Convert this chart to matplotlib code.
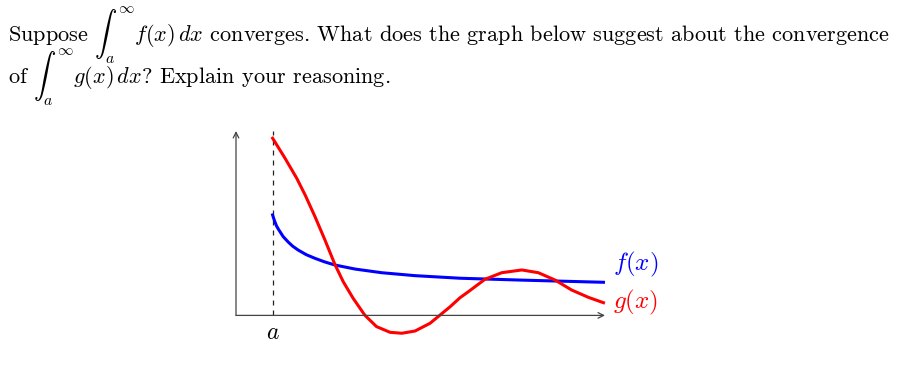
import matplotlib
matplotlib.use('Agg')
from matplotlib import pyplot as plt

plt.rcParams['font.family'] = 'serif'
plt.rcParams['font.serif'] = ['cmr10', 'DejaVu Serif']
plt.rcParams['mathtext.fontset'] = 'cm'
plt.rcParams['axes.formatter.use_mathtext'] = True

# values (a = 1 on the x axis)
a_pos = 1.0
f_x = [1.0, 1.05, 1.11, 1.16, 1.29, 1.43, 1.55, 1.70, 1.92, 2.16, 2.42, 2.70, 3.25,
       3.98, 4.89, 6.12, 7.76, 10.04]
f_y = [5.46, 5.15, 4.85, 4.68, 4.28, 3.98, 3.76, 3.55, 3.30, 3.10, 2.91, 2.74, 2.52,
       2.32, 2.16, 2.02, 1.92, 1.80]
g_x = [1.0, 1.34, 1.66, 1.89, 2.16, 2.43, 2.70, 2.93, 3.20, 3.52, 3.84, 4.21, 4.53,
       4.89, 5.30, 5.57, 5.85, 6.12, 6.35, 6.80, 7.26, 7.81, 8.26, 8.72, 9.17, 9.63, 10.04]
g_y = [9.63, 8.54, 7.45, 6.54, 5.36, 4.10, 2.78, 1.83, 0.93, 0.01, -0.61, -0.92, -0.97,
       -0.85, -0.43, 0.01, 0.47, 0.96, 1.29, 1.96, 2.32, 2.47, 2.32, 1.92, 1.38, 0.98, 0.69]

line1 = r'Suppose $\int_a^\infty f(x)\,dx$ converges. What does the graph below suggest about the convergence'
line2 = r'of $\int_a^\infty g(x)\,dx$? Explain your reasoning.'

W, H = 907, 380
fig = plt.figure(figsize=(W / 100, H / 100), dpi=100)

fig.text(8 / W, 1 - 42 / H, line1, fontsize=16, va='baseline', ha='left')
fig.text(8 / W, 1 - 84 / H, line2, fontsize=16, va='baseline', ha='left')

x0, x1, ytop, ybot = 236, 605, 131, 315.4
ax = fig.add_axes([x0 / W, 1 - ybot / H, (x1 - x0) / W, (ybot - ytop) / H])
ax.set_xlim(0, (x1 - x0) / 36.6)
ax.set_ylim(0, (ybot - ytop) / 18.4)
ax.axis('off')
xe, ye = ax.get_xlim()[1], ax.get_ylim()[1]

axis_col = '#444444'
ax.annotate('', xy=(xe, 0), xytext=(0, 0),
            arrowprops=dict(arrowstyle='->', color=axis_col, lw=0.9, shrinkA=0, shrinkB=0))
ax.annotate('', xy=(0, ye), xytext=(0, 0),
            arrowprops=dict(arrowstyle='->', color=axis_col, lw=0.9, shrinkA=0, shrinkB=0))
ax.plot([a_pos, a_pos], [0, ye], color='#222222', lw=0.9, dashes=(4, 4))

ax.plot(f_x, f_y, color='#0000ff', lw=2.2, clip_on=False, solid_joinstyle='round')
ax.plot(g_x, g_y, color='#ff0000', lw=2.2, clip_on=False, solid_joinstyle='round')

ax.text(10.3, 2.79, r'$f(x)$', color='#0000ff', fontsize=18, va='center', ha='left')
ax.text(10.3, 0.73, r'$g(x)$', color='#ff0000', fontsize=18, va='center', ha='left')
ax.text(a_pos, -0.96, r'$a$', fontsize=17, va='center', ha='center')

fig.savefig('out.png', dpi=100)
